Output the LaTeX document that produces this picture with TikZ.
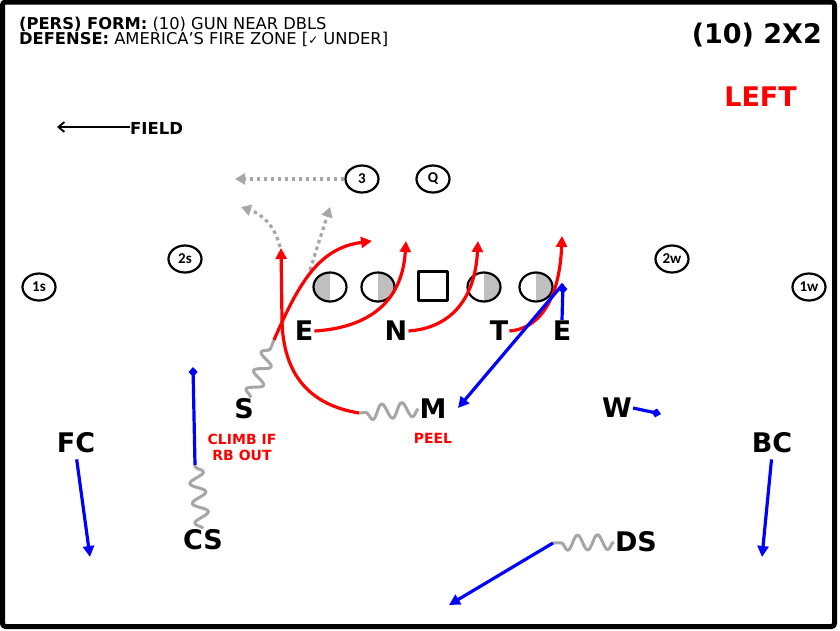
\documentclass[tikz,border=0pt]{standalone}
\usepackage{fontspec}
\setmainfont{DejaVu Sans}
\newfontfamily\circfont{Carlito}
\usetikzlibrary{positioning}
\usetikzlibrary{arrows.meta}
\usetikzlibrary{shapes.geometric}
\usetikzlibrary{decorations.pathmorphing}

\definecolor{lmgray}{RGB}{191,191,191}
\definecolor{rtgray}{RGB}{166,166,166}

\tikzset{
    rcv/.style={draw, ellipse, line width=2.2pt, minimum width=33pt, minimum height=27pt,
        inner sep=0pt, font=\circfont\bfseries\fontsize{15}{15}\selectfont},
    olman/.style={draw, ellipse, line width=2.2pt, minimum width=33pt, minimum height=29pt, inner sep=0pt},
    shadeleft/.style={olman, path picture={\fill[lmgray] (path picture bounding box.north west) rectangle (path picture bounding box.south);}},
    shaderight/.style={olman, path picture={\fill[lmgray] (path picture bounding box.north) rectangle (path picture bounding box.south east);}},
    ctrbox/.style={draw, rectangle, line width=2.2pt, minimum size=29pt, inner sep=0pt},
    dfn/.style={font=\bfseries\fontsize{27}{27}\selectfont, inner sep=1pt},
    note/.style={red, font=\bfseries\fontsize{14}{16}\selectfont, align=center, inner sep=0pt},
    redrt/.style={red, line width=3.2pt, -{Triangle[length=11pt,width=11pt]}},
    blurt/.style={blue, line width=3.2pt, -{Triangle[length=11pt,width=11pt]}},
    bluend/.style={blue, line width=3.2pt, -{Diamond[length=10pt,width=9pt]}},
    dotrt/.style={rtgray, line width=3.2pt, dash pattern=on 3.5pt off 3.5pt, -{Triangle[length=10pt,width=11pt]}},
    zz/.style={rtgray, line width=3pt, decorate, decoration={snake, segment length=20pt, amplitude=7.5pt}}
}

\begin{document}
\begin{tikzpicture}
[   x=1pt, y=-1pt,
    line join=round
]
\useasboundingbox (0,0) rectangle (840,630);
\draw[line width=5pt, rounded corners=3pt] (2.5,2) rectangle (834.5,626.5);

\node[anchor=base west, inner sep=0pt, font=\fontsize{16.3}{16}\selectfont] (formlbl) at (19,29)
    {\textbf{(PERS) FORM:} (10) GUN NEAR DBLS};
\node[anchor=base west, inner sep=0pt, font=\fontsize{16.3}{16}\selectfont] (deflbl) at (19,44)
    {\textbf{DEFENSE:} AMERICA’S FIRE ZONE [{\fontsize{12}{12}\selectfont ✓} UNDER]};
\node[anchor=base east, inner sep=0pt, font=\bfseries\fontsize{27}{27}\selectfont] (pkglbl) at (822,43) {(10) 2X2};
\node[anchor=base east, inner sep=0pt, red, font=\bfseries\fontsize{27}{27}\selectfont] (leftlbl) at (797,106) {LEFT};

\node[anchor=base west, inner sep=0pt, font=\bfseries\fontsize{16.5}{16}\selectfont] (fieldlbl) at (130,134) {FIELD};
\coordinate (fieldend) at (57,127);
\draw[line width=1.8pt, -{Straight Barb[length=6pt,width=10pt]}] (fieldlbl.west |- fieldend) -- (fieldend);

\node[rcv] (rcv3) at (362,179) {3};
\node[rcv] (qb) at (433,179) {Q};
\node[rcv] (rcv1s) at (39,287) {1s};
\node[rcv] (rcv2s) at (185,259) {2s};
\node[rcv] (rcv2w) at (672,259) {2w};
\node[rcv] (rcv1w) at (809,287) {1w};

\node[shadeleft] (lt) at (330,287) {};
\node[shaderight] (lg) at (378,287) {};
\node[ctrbox] (ctr) at (433,286) {};
\node[shaderight] (rg) at (484,287) {};
\node[shaderight] (rt) at (536,287) {};

\node[dfn] (deL) at (304,331) {E};
\node[dfn] (dn) at (396,331) {N};
\node[dfn] (dt) at (499,331) {T};
\node[dfn] (deR) at (562,331) {E};
\node[dfn] (sam) at (244,409) {S};
\node[dfn] (mike) at (433,409) {M};
\node[dfn] (will) at (617,408) {W};
\node[dfn] (fc) at (76,443) {FC};
\node[dfn] (bc) at (772,443) {BC};
\node[dfn] (cs) at (203,540) {CS};
\node[dfn] (ds) at (636,542) {DS};

\node[note] (climb) at (242,447) {CLIMB IF\\RB OUT};
\node[note] (peel) at (433,438) {PEEL};

\coordinate (r3end) at (235,179);
\coordinate (rtA) at (280,247);
\coordinate (rtAend) at (241,207);
\coordinate (rtB) at (310,270);
\coordinate (rtBend) at (330,207);
\draw[dotrt] (rcv3.west) -- (r3end);
\draw[dotrt] (rtA) .. controls (275,226) and (262,214) .. (rtAend);
\draw[dotrt] (rtB) -- (rtBend);

\coordinate (samtop) at (274,340);
\coordinate (climbend) at (372,241);
\coordinate (mkend) at (359,413);
\coordinate (peelend) at (281,248);
\coordinate (dlend) at (406,241);
\coordinate (dnend) at (478,241);
\coordinate (dtend) at (562,236);
\draw[zz] (sam.60) -- (samtop);
\draw[zz] (mike.west) -- (mkend);
\draw[redrt] (samtop) .. controls (300,280) and (320,248) .. (climbend);
\draw[redrt] (mkend) .. controls (310,405) and (283,375) .. (282,320) -- (peelend);
\draw[redrt] (deL.east) .. controls (365,328) and (402,305) .. (dlend);
\draw[redrt] (dn.east) .. controls (450,328) and (475,300) .. (dnend);
\draw[redrt] (dt.east) .. controls (545,328) and (560,290) .. (dtend);

\coordinate (ecorner) at (563,284);
\coordinate (eend) at (458,408);
\coordinate (wend) at (661,414);
\coordinate (csturn) at (195,465);
\coordinate (csend) at (193,367);
\coordinate (fcend) at (90,557);
\coordinate (bcend) at (762,557);
\coordinate (dsturn) at (553,543);
\coordinate (dsend) at (449,605);
\draw[bluend] (deR.north) -- (ecorner);
\draw[blurt] (ecorner) -- (eend);
\draw[bluend] (will.east) -- (wend);
\draw[zz] (cs.north) -- (csturn);
\draw[bluend] (csturn) -- (csend);
\draw[blurt, shorten <=5pt] (fc.south) -- (fcend);
\draw[blurt, shorten <=5pt] (bc.south) -- (bcend);
\draw[zz] (ds.west) -- (dsturn);
\draw[blurt] (dsturn) -- (dsend);
\end{tikzpicture}
\end{document}
